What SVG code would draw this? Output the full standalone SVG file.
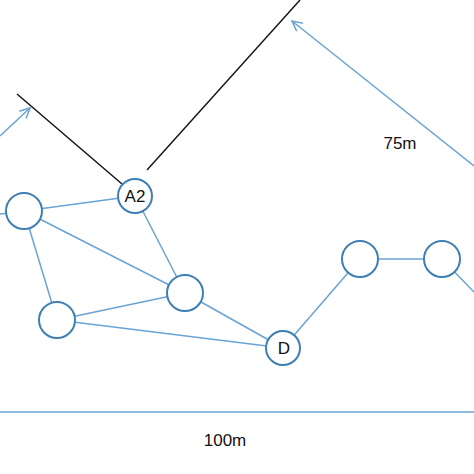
<svg xmlns="http://www.w3.org/2000/svg" width="474" height="474" viewBox="0 0 474 474">
<style>
.e{stroke:#6aa3d4;stroke-width:1.5;fill:none}
.k{stroke:#111;stroke-width:1.4;fill:none}
.n{fill:#fff;stroke:#3f7fb3;stroke-width:2}
.t{font-family:"Liberation Sans",Arial,sans-serif;font-size:17px;fill:#111;text-anchor:middle}
</style>
<defs>
<marker id="ah" viewBox="0 0 12 12" refX="11" refY="6" markerWidth="12" markerHeight="12" markerUnits="userSpaceOnUse" orient="auto">
<path d="M1,1 L11,6 L1,11" fill="none" stroke="#6aa3d4" stroke-width="1.5"/>
</marker>
</defs>
<rect width="474" height="474" fill="#fff"/>
<g id="connectors">
<line class="k" x1="17" y1="94" x2="122" y2="184"/>
<line class="k" x1="147" y1="170" x2="300" y2="0"/>
<line class="e" x1="0" y1="136" x2="30" y2="108" marker-end="url(#ah)"/>
<line class="e" x1="474" y1="166" x2="292" y2="21" marker-end="url(#ah)"/>
<line class="e" x1="0" y1="412" x2="474" y2="412"/>
<line class="e" x1="0" y1="214" x2="24" y2="211"/>
<line class="e" x1="24" y1="211" x2="135" y2="196"/>
<line class="e" x1="24" y1="211" x2="185" y2="293"/>
<line class="e" x1="24" y1="211" x2="57" y2="320"/>
<line class="e" x1="135" y1="196" x2="185" y2="293"/>
<line class="e" x1="185" y1="293" x2="57" y2="320"/>
<line class="e" x1="185" y1="293" x2="283" y2="348"/>
<line class="e" x1="57" y1="320" x2="283" y2="348"/>
<line class="e" x1="283" y1="348" x2="360" y2="259"/>
<line class="e" x1="360" y1="259" x2="442" y2="259"/>
<line class="e" x1="442" y1="259" x2="474" y2="292"/>
</g>
<g id="n1"><circle class="n" cx="24" cy="211" r="18"/></g>
<g id="A2"><circle class="n" cx="135" cy="196" r="17"/><text class="t" x="135" y="202">A2</text></g>
<g id="n3"><circle class="n" cx="185" cy="293" r="18"/></g>
<g id="n4"><circle class="n" cx="57" cy="320" r="18"/></g>
<g id="D"><circle class="n" cx="283" cy="348" r="17"/><text class="t" x="284" y="354">D</text></g>
<g id="n6"><circle class="n" cx="360" cy="259" r="18"/></g>
<g id="n7"><circle class="n" cx="442" cy="259" r="18"/></g>
<text class="t" x="400" y="149">75m</text>
<text class="t" x="225" y="446">100m</text>
</svg>
